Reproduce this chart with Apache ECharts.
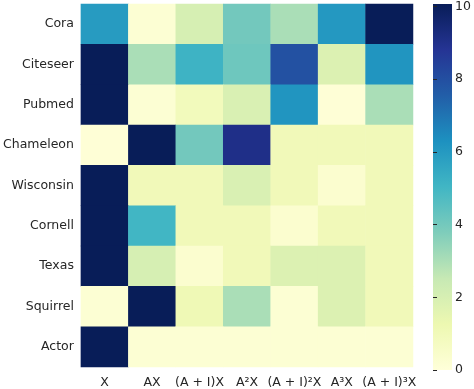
<!DOCTYPE html>
<html><head><meta charset="utf-8">
<script src="https://cdn.jsdelivr.net/npm/echarts@6/dist/echarts.min.js"></script>
<style>html,body{margin:0;padding:0;background:#fff}#c{width:474px;height:389px}</style>
</head><body><div id="c"></div>
<script>
const columns = ['X','AX','(A + I)X','A\u00b2X','(A + I)\u00b2X','A\u00b3X','(A + I)\u00b3X'];
const rows = ['Cora','Citeseer','Pubmed','Chameleon','Wisconsin','Cornell','Texas','Squirrel','Actor'];
const Cora      = [5.9, 0.2, 2.0, 4.0, 3.0, 6.0, 10];
const Citeseer  = [10, 3.0, 5.1, 4.1, 7.9, 1.8, 6.1];
const Pubmed    = [10, 0.2, 0.9, 1.9, 6.1, 0.1, 3.0];
const Chameleon = [0.1, 10, 4.0, 9.0, 1.0, 1.0, 1.0];
const Wisconsin = [10, 1.0, 1.0, 1.9, 1.0, 0.3, 1.0];
const Cornell   = [10, 5.0, 1.0, 1.0, 0.3, 1.0, 1.0];
const Texas     = [10, 2.0, 0.3, 1.0, 1.8, 1.8, 1.0];
const Squirrel  = [0.2, 10, 1.1, 3.0, 0.2, 1.8, 1.0];
const Actor     = [10, 0.2, 0.2, 0.2, 0.2, 0.2, 0.2];
const colorbarTicks = [0, 2, 4, 6, 8, 10];

const matrix = [Cora, Citeseer, Pubmed, Chameleon, Wisconsin, Cornell, Texas, Squirrel, Actor];
const data = [];
matrix.forEach((r, i) => r.forEach((v, j) => data.push([j, i, v])));
const ylgnbu = ['#ffffd9','#edf8b1','#c7e9b4','#7fcdbb','#41b6c4','#1d91c0','#225ea8','#253494','#081d58'];
const txt = '#262626';
const font = 'DejaVu Sans';

const chart = echarts.init(document.getElementById('c'));
chart.setOption({
  animation: false,
  textStyle: {fontFamily: font},
  grid: [
    {left: 78, top: 4, width: 335, height: 366},
    {left: 433, top: 4, width: 19, height: 366}
  ],
  xAxis: [
    {type: 'category', data: columns, gridIndex: 0,
     axisLine: {show: false}, axisTick: {show: false}, splitLine: {show: false},
     axisLabel: {color: txt, fontSize: 12.5, fontFamily: font, margin: 9, interval: 0}},
    {type: 'value', gridIndex: 1, show: false, min: 0, max: 1}
  ],
  yAxis: [
    {type: 'category', data: rows, gridIndex: 0, inverse: true,
     axisLine: {show: false}, axisTick: {show: false}, splitLine: {show: false},
     axisLabel: {color: txt, fontSize: 12.5, fontFamily: font, margin: 7}},
    {type: 'value', gridIndex: 1, position: 'right', min: 0, max: 10, interval: 2,
     axisLine: {show: false}, splitLine: {show: false},
     axisTick: {show: true, length: 4, lineStyle: {color: txt, width: 1}},
     axisLabel: {color: txt, fontSize: 12.5, fontFamily: font, margin: 4}}
  ],
  visualMap: {show: false, min: 0, max: 10, seriesIndex: 0, inRange: {color: ylgnbu}},
  graphic: [{
    type: 'rect', shape: {x: 433, y: 4, width: 19, height: 366}, z: -1,
    style: {fill: new echarts.graphic.LinearGradient(0, 1, 0, 0,
      ylgnbu.map((c, i) => ({offset: i / (ylgnbu.length - 1), color: c})))}
  }],
  series: [
    {type: 'heatmap', data: data, xAxisIndex: 0, yAxisIndex: 0,
     itemStyle: {borderWidth: 0}, emphasis: {disabled: true}},
    {type: 'line', data: [], xAxisIndex: 1, yAxisIndex: 1}
  ]
});
</script></body></html>
